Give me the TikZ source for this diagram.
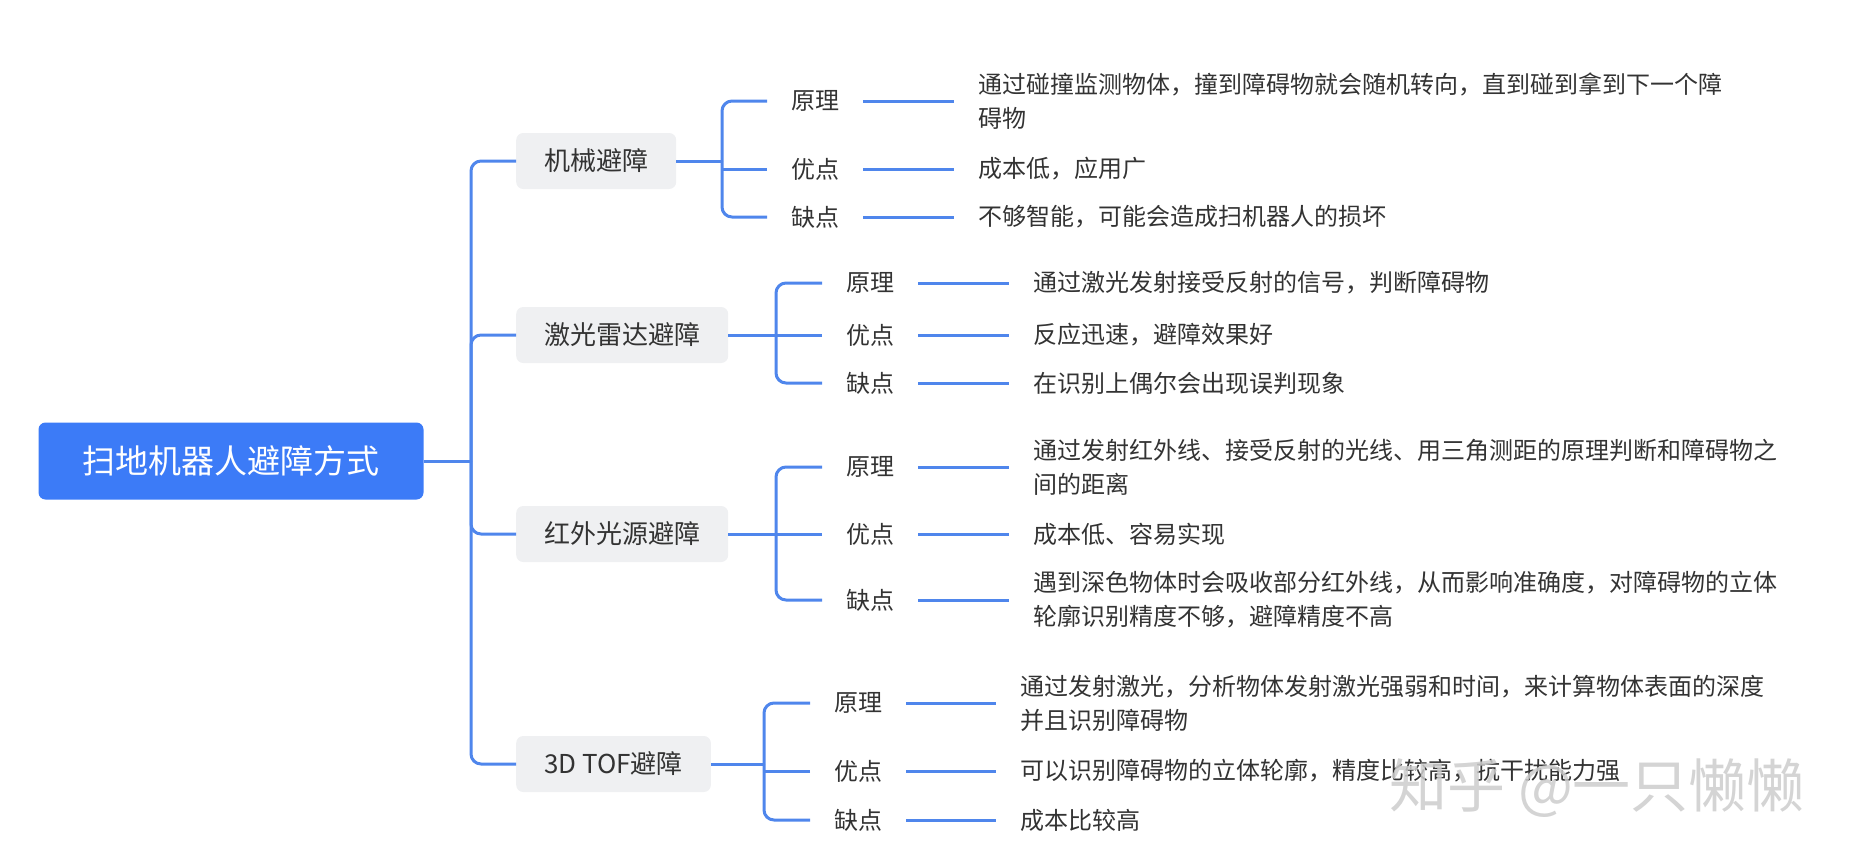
\documentclass[tikz,border=0pt]{standalone}
\usepackage{fontspec}
\setmainfont{Noto Sans CJK SC}
\definecolor{rootblue}{HTML}{3C7BF7}
\definecolor{linkblue}{HTML}{4F86EC}
\definecolor{boxgray}{HTML}{EFF0F2}
\definecolor{txtgray}{HTML}{333333}
\tikzset{
    root/.style={fill=rootblue, text=white, rounded corners=7pt, minimum width=385pt, minimum height=77pt, font=\fontsize{33}{38}\selectfont},
    topic/.style={fill=boxgray, text=txtgray, rounded corners=7pt, minimum height=56pt, inner xsep=28pt, font=\fontsize{26}{30}\selectfont},
    sub/.style={text=txtgray, anchor=west, inner xsep=24pt, font=\fontsize{24}{28}\selectfont},
    desc/.style={text=txtgray, anchor=west, align=left, inner xsep=24pt, font=\fontsize{24}{34}\selectfont},
    link/.style={linkblue, line width=3pt, rounded corners=10pt},
}
\begin{document}
\begin{tikzpicture}[x=1pt, y=-1pt]
    \useasboundingbox (0, 0) rectangle (1857, 860);
    % root
    \node[root] (root) at (231, 461) {扫地机器人避障方式};
    \coordinate (trunk) at (471, 461);
    \node[topic, anchor=west] (jx) at (516, 161) {机械避障};
    \node[topic, anchor=west] (jg) at (516, 335) {激光雷达避障};
    \node[topic, anchor=west] (hw) at (516, 534) {红外光源避障};
    \node[topic, anchor=west] (tof) at (516, 764) {3D TOF避障};
    \draw[link] (root.east) -- (trunk);
    \draw[link] (jx.west) -| (trunk);
    \draw[link] (jg.west) -| (trunk);
    \draw[link] (hw.west) -| (trunk);
    \draw[link] (tof.west) -| (trunk);
    % mechanical
    \coordinate (jxb) at (722, 161);
    \node[sub] (jx1) at (767, 101) {原理};
    \node[sub] (jx2) at (767, 169) {优点};
    \node[sub] (jx3) at (767, 217) {缺点};
    \node[desc] (jx1d) at (954, 101) {通过碰撞监测物体，撞到障碍物就会随机转向，直到碰到拿到下一个障\\碍物};
    \node[desc] (jx2d) at (954, 169) {成本低，应用广};
    \node[desc] (jx3d) at (954, 217) {不够智能，可能会造成扫机器人的损坏};
    \draw[link] (jx.east) -- (jxb);
    \draw[link] (jx1.west) -| (jxb);
    \draw[link] (jx2.west) -- (jx2.west -| jxb);
    \draw[link] (jx3.west) -| (jxb);
    \draw[link] (jx1.east) -- (jx1d.west);
    \draw[link] (jx2.east) -- (jx2d.west);
    \draw[link] (jx3.east) -- (jx3d.west);
    % lidar
    \coordinate (jgb) at (776, 335);
    \node[sub] (jg1) at (822, 283) {原理};
    \node[sub] (jg2) at (822, 335) {优点};
    \node[sub] (jg3) at (822, 383) {缺点};
    \node[desc] (jg1d) at (1009, 283) {通过激光发射接受反射的信号，判断障碍物};
    \node[desc] (jg2d) at (1009, 335) {反应迅速，避障效果好};
    \node[desc] (jg3d) at (1009, 383) {在识别上偶尔会出现误判现象};
    \draw[link] (jg.east) -- (jgb);
    \draw[link] (jg1.west) -| (jgb);
    \draw[link] (jg2.west) -- (jgb);
    \draw[link] (jg3.west) -| (jgb);
    \draw[link] (jg1.east) -- (jg1d.west);
    \draw[link] (jg2.east) -- (jg2d.west);
    \draw[link] (jg3.east) -- (jg3d.west);
    % infrared
    \coordinate (hwb) at (776, 534);
    \node[sub] (hw1) at (822, 467) {原理};
    \node[sub] (hw2) at (822, 534) {优点};
    \node[sub] (hw3) at (822, 600) {缺点};
    \node[desc] (hw1d) at (1009, 467) {通过发射红外线、接受反射的光线、用三角测距的原理判断和障碍物之\\间的距离};
    \node[desc] (hw2d) at (1009, 534) {成本低、容易实现};
    \node[desc] (hw3d) at (1009, 600) {遇到深色物体时会吸收部分红外线，从而影响准确度，对障碍物的立体\\轮廓识别精度不够，避障精度不高};
    \draw[link] (hw.east) -- (hwb);
    \draw[link] (hw1.west) -| (hwb);
    \draw[link] (hw2.west) -- (hwb);
    \draw[link] (hw3.west) -| (hwb);
    \draw[link] (hw1.east) -- (hw1d.west);
    \draw[link] (hw2.east) -- (hw2d.west);
    \draw[link] (hw3.east) -- (hw3d.west);
    % 3d tof
    \coordinate (tofb) at (764, 764);
    \node[sub] (tof1) at (810, 703) {原理};
    \node[sub] (tof2) at (810, 771) {优点};
    \node[sub] (tof3) at (810, 820) {缺点};
    \node[desc] (tof1d) at (996, 703) {通过发射激光，分析物体发射激光强弱和时间，来计算物体表面的深度\\并且识别障碍物};
    \node[desc] (tof2d) at (996, 771) {可以识别障碍物的立体轮廓，精度比较高，抗干扰能力强};
    \node[desc] (tof3d) at (996, 820) {成本比较高};
    \draw[link] (tof.east) -- (tofb);
    \draw[link] (tof1.west) -| (tofb);
    \draw[link] (tof2.west) -- (tof2.west -| tofb);
    \draw[link] (tof3.west) -| (tofb);
    \draw[link] (tof1.east) -- (tof1d.west);
    \draw[link] (tof2.east) -- (tof2d.west);
    \draw[link] (tof3.east) -- (tof3d.west);
    % watermark
    \node[text=gray!40, opacity=0.85, font=\fontsize{58}{64}\selectfont] (mark) at (1597, 788) {知乎 @一只懒懒};
\end{tikzpicture}
\end{document}
